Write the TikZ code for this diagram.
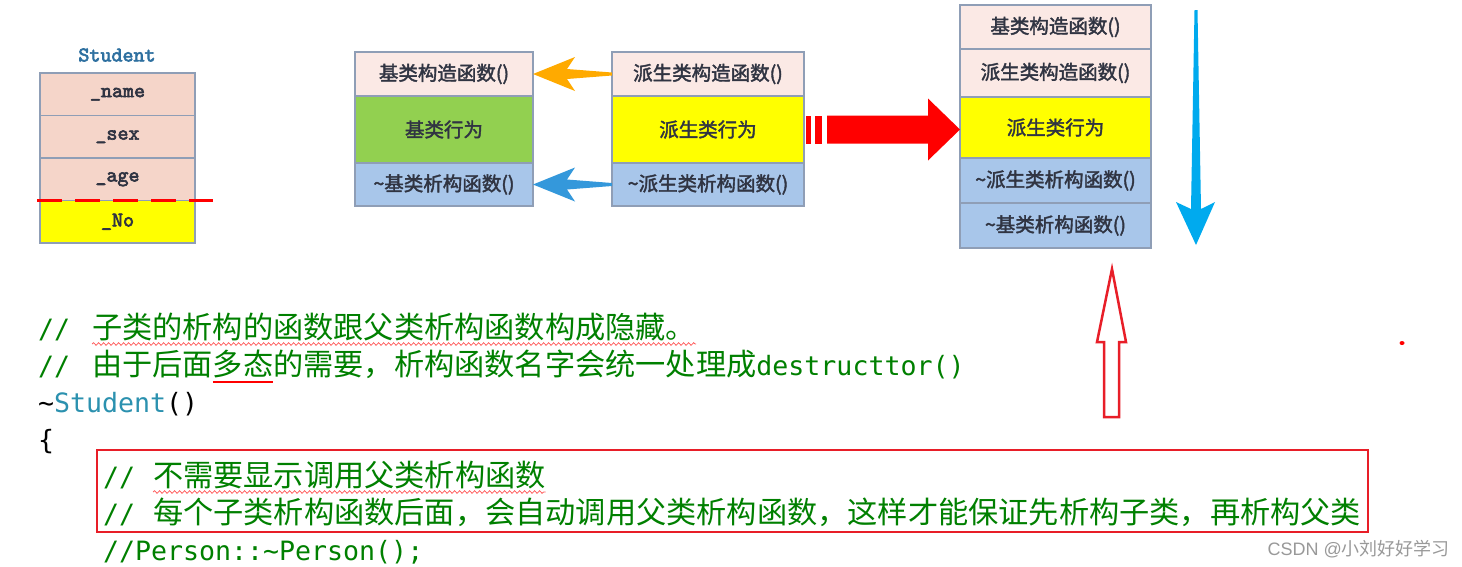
\documentclass[tikz,border=0pt]{standalone}
\usepackage{fontspec}
\usepackage{xcolor}
\usepackage{tikz}
\usetikzlibrary{arrows.meta,positioning,calc,decorations.pathmorphing}
\newfontfamily\hanfont{Noto Sans CJK SC}
\newfontfamily\hanboldfont[FakeBold=2]{Noto Sans CJK SC}
\newfontfamily\codefont{DejaVu Sans Mono}
\newfontfamily\markfont{Liberation Sans}
\newfontfamily\fieldfont[FakeBold=3]{lmmono10-regular.otf}
\newcommand\codemono{\codefont\fontsize{26.6}{37}\selectfont}
\newcommand\codehan{\hanfont\fontsize{30.2}{37}\selectfont}
\newcommand\fieldmono{\fieldfont\fontsize{21}{22}\selectfont}
\definecolor{rim}{RGB}{143,158,182}
\definecolor{salmon}{RGB}{245,213,201}
\definecolor{blush}{RGB}{251,233,229}
\definecolor{leaf}{RGB}{146,208,80}
\definecolor{sky}{RGB}{168,198,234}
\definecolor{lemon}{RGB}{255,255,0}
\definecolor{ink}{RGB}{48,52,66}
\definecolor{titleblue}{RGB}{46,112,160}
\definecolor{amber}{RGB}{255,170,0}
\definecolor{azure}{RGB}{52,152,219}
\definecolor{flowblue}{RGB}{0,170,238}
\definecolor{alarm}{RGB}{255,0,0}
\definecolor{framered}{RGB}{232,30,40}
\definecolor{comment}{RGB}{0,128,0}
\definecolor{typeblue}{RGB}{43,145,175}
\definecolor{wave}{RGB}{255,90,90}
\tikzset{
  cell/.style={rectangle,draw=rim,line width=1.5pt,inner sep=0pt,outer sep=0pt,
    text=ink,font=\hanboldfont\fontsize{19.5}{21}\selectfont},
  field/.style={cell,fill=salmon,minimum width=155pt,minimum height=42.5pt,
    font=\fieldmono},
  basebox/.style={cell,minimum width=178pt},
  derivbox/.style={cell,minimum width=192pt},
  stackbox/.style={cell,minimum width=191pt},
  code/.style={anchor=base west,inner sep=0pt,outer sep=0pt,text=comment},
  squiggle/.style={draw=wave,line width=0.8pt,decorate,
    decoration={snake,amplitude=1.3pt,segment length=5pt}}
}

\begin{document}
\begin{tikzpicture}[x=1pt,y=-1pt]
\fill[white] (0,0) rectangle (1462,566);
\useasboundingbox (0,0) rectangle (1462,566);
% Student object
\node[font=\fieldmono,text=titleblue] (title) at (117,55) {Student};
\node[field,anchor=north west] (name) at (40,73) {\_name};
\node[field,below=0pt of name] (sex) {\_sex};
\node[field,below=0pt of sex] (age) {\_age};
\node[field,fill=lemon,below=0pt of age] (no) {\_No};
\draw[alarm,line width=2.5pt,dash pattern=on 25pt off 13pt] ($(no.north west)+(-3,0)$) -- ($(no.north east)+(18,0)$);
% base and derived objects
\node[basebox,fill=blush,minimum height=44pt,anchor=north west] (bctor) at (355,52) {基类构造函数()};
\node[basebox,fill=leaf,minimum height=67pt,below=0pt of bctor] (bact) {基类行为};
\node[basebox,fill=sky,minimum height=43pt,below=0pt of bact] (bdtor) {\textasciitilde{}基类析构函数()};
\node[derivbox,fill=blush,minimum height=44pt,anchor=north west] (dctor) at (612,52) {派生类构造函数()};
\node[derivbox,fill=lemon,minimum height=67pt,below=0pt of dctor] (dact) {派生类行为};
\node[derivbox,fill=sky,minimum height=43pt,below=0pt of dact] (ddtor) {\textasciitilde{}派生类析构函数()};
% order inside the derived object
\node[stackbox,fill=blush,minimum height=44pt,anchor=north west] (sbctor) at (960,5) {基类构造函数()};
\node[stackbox,fill=blush,minimum height=48pt,below=0pt of sbctor] (sdctor) {派生类构造函数()};
\node[stackbox,fill=lemon,minimum height=61pt,below=0pt of sdctor] (sact) {派生类行为};
\node[stackbox,fill=sky,minimum height=45pt,below=0pt of sact] (sddtor) {\textasciitilde{}派生类析构函数()};
\node[stackbox,fill=sky,minimum height=45pt,below=0pt of sddtor] (sbdtor) {\textasciitilde{}基类析构函数()};
\fill[amber] (bctor.east) -- ++(42,-17) -- ++(-8,12) -- ($(dctor.west)+(0,-1.5)$) -- ($(dctor.west)+(0,1.5)$) -- ($(bctor.east)+(34,5)$) -- ++(8,12) -- cycle;
\fill[azure] (bdtor.east) -- ++(42,-17) -- ++(-8,12) -- ($(ddtor.west)+(0,-1.5)$) -- ($(ddtor.west)+(0,1.5)$) -- ($(bdtor.east)+(34,5)$) -- ++(8,12) -- cycle;
\coordinate (hit) at (sact.west|-dact.east);
\fill[alarm] ($(dact.east)+(2,-14)$) rectangle ++(5,28);
\fill[alarm] ($(dact.east)+(11,-14)$) rectangle ++(7,28);
\fill[alarm] ($(dact.east)+(23,-14)$) -- ($(hit)+(-32,-14)$) -- ++(0,-17) -- (hit) -- ($(hit)+(-32,31)$) -- ++(0,-17) -- ($(dact.east)+(23,14)$) -- cycle;
\coordinate (flowtop) at (1196,10);
\coordinate (flowend) at (1196,245);
\fill[flowblue] ($(flowtop)+(-1.5,0)$) -- ($(flowtop)+(1.5,0)$) -- ($(flowend)+(5,-36)$) -- ($(flowend)+(19,-43)$) -- (flowend) -- ($(flowend)+(-20,-43)$) -- ($(flowend)+(-5,-36)$) -- cycle;
\coordinate (uptip) at (1112,269);
\coordinate (upfoot) at (1112,417);
\draw[framered,line width=2.5pt] (uptip) -- ($(uptip)+(14,73)$) -- ($(uptip)+(7,73)$) -- ($(upfoot)+(7,0)$) -- ($(upfoot)+(-8,0)$) -- ($(uptip)+(-8,73)$) -- ($(uptip)+(-15,73)$) -- cycle;
\fill[alarm] (1402,343) ellipse (2.5 and 2);
% destructor code
\node[code] (c1a) at (38,338) {\codemono//};
\node[code] (c1b) at ($(c1a.base east)+(22,0)$) {\codehan 子类的析构的函数跟父类析构函数构成隐藏。};
\draw[squiggle] ($(c1b.base west)+(0,6)$) -- ($(c1b.base east)+(0,6)$);
\node[code] (c2a) at (38,375) {\codemono//};
\node[code] (c2b) at ($(c2a.base east)+(22,0)$) {\codehan 由于后面};
\node[code] (c2c) at (c2b.base east) {\codehan 多态};
\node[code] (c2d) at (c2c.base east) {\codehan 的需要，析构函数名字会统一处理成\codemono destructtor()};
\draw[alarm,line width=2pt] ($(c2c.base west)+(0,7)$) -- ($(c2c.base east)+(0,7)$);
\node[code,text=black] (c3) at (38,412) {\codemono\textasciitilde\textcolor{typeblue}{Student}()};
\node[code,text=black] (c4) at (38,449) {\codemono\{};
\node[code] (c5a) at (103,486) {\codemono//};
\node[code] (c5b) at ($(c5a.base east)+(18,0)$) {\codehan 不需要显示调用父类析构函数};
\draw[squiggle] ($(c5b.base west)+(0,6)$) -- ($(c5b.base east)+(0,6)$);
\node[code] (c6a) at (103,523) {\codemono//};
\node[code] (c6b) at ($(c6a.base east)+(18,0)$) {\codehan 每个子类析构函数后面，会自动调用父类析构函数，这样才能保证先析构子类，再析构父类};
\node[code] (c7) at (103,560) {\codemono//Person::\textasciitilde{}Person();};
\draw[framered,line width=2.5pt] (97,450) rectangle (1368,532);
\node[anchor=base east,inner sep=0pt,text=black!40] (mark) at (1450,555) {\markfont\fontsize{18}{20}\selectfont CSDN @\hanfont 小刘好好学习};
\end{tikzpicture}
\end{document}
